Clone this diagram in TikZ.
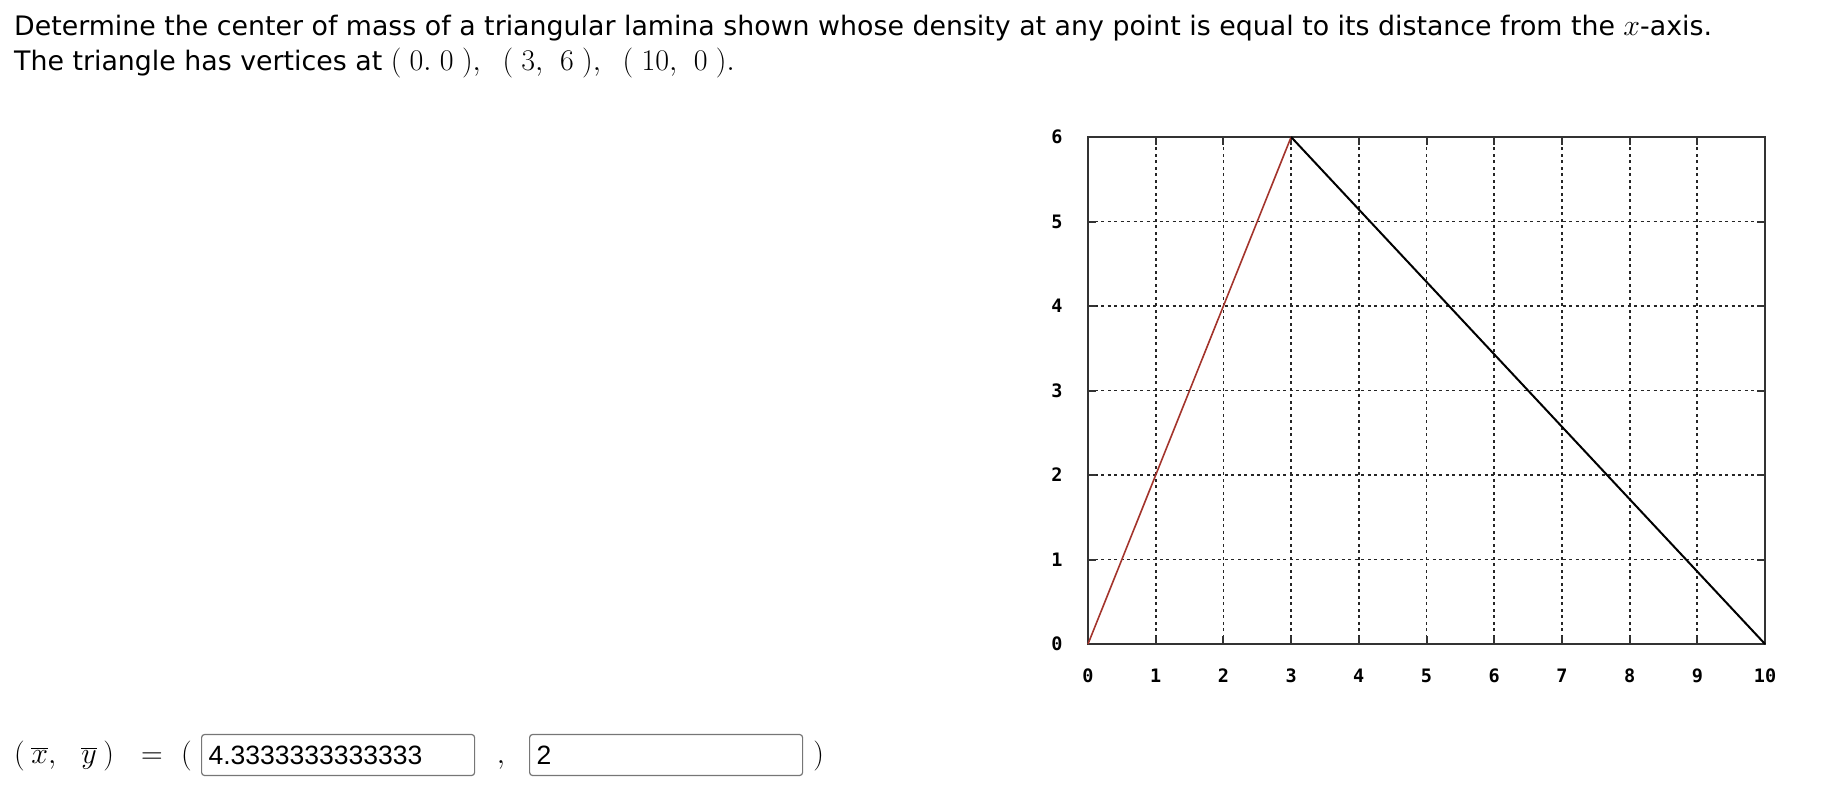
\documentclass[tikz,border=0pt]{standalone}
\usepackage{fix-cm}
\usepackage{fontspec}
\setmainfont{DejaVu Sans}
\newfontfamily\boxfont{Liberation Sans}
\newfontfamily\tickfont{DejaVu Sans Mono}
\definecolor{edgered}{HTML}{A3342C}
\definecolor{boxgray}{HTML}{767676}

\begin{document}
\begin{tikzpicture}[x=1pt,y=-1pt]
        \tikzset{prose/.style={anchor=base west,inner sep=0pt,font=\fontsize{26.8}{31}\selectfont},
            bigmath/.style={inner sep=0pt,font=\fontsize{30}{36}\selectfont},
            answer/.style={draw=boxgray,line width=1.2pt,rounded corners=3pt,anchor=west,
                text width=259pt,inner xsep=7pt,minimum height=41pt,
                font=\boxfont\fontsize{26.5}{30}\selectfont},
            ticklabel/.style={inner sep=0pt,font=\tickfont\bfseries\fontsize{18.5}{22}\selectfont},
            gridline/.style={line width=1.8pt,dash pattern=on 3pt off 3.5pt,draw=black!85},
            frame/.style={line width=2pt,draw=black!80},
            redside/.style={line width=1.6pt,draw=edgered},
            blackside/.style={line width=2pt,draw=black}}
        \useasboundingbox (0,0) rectangle (1836,788);
        \node[prose] (line1) at (14,35)
            {Determine the center of mass of a triangular lamina shown whose density at any point is equal to its distance from the {\fontsize{30}{34}\selectfont$x$}-axis.};
        \node[prose] (line2) at (14,70)
            {The triangle has vertices at {\fontsize{30}{34}\selectfont$(\mkern5mu 0.\mkern5mu 0\mkern5mu),\mkern10mu(\mkern5mu 3,\mkern7mu 6\mkern5mu),\mkern10mu(\mkern5mu 10,\mkern7mu 0\mkern5mu).$}};
        \begin{scope}[shift={(1088,644)},x=67.7pt,y=84.5pt]
            \foreach \i in {1,...,9}
                \draw[gridline] (\i,0) -- (\i,6);
            \foreach \j in {1,...,5}
                \draw[gridline] (0,\j) -- (10,\j);
            \foreach \i in {1,...,9} {
                \draw[frame] (\i,0) -- ++(0,0.1);
                \draw[frame] (\i,6) -- ++(0,-0.1);
            }
            \foreach \j in {1,...,5} {
                \draw[frame] (0,\j) -- ++(0.12,0);
                \draw[frame] (10,\j) -- ++(-0.12,0);
            }
            \draw[frame] (0,0) rectangle (10,6);
            \foreach \i in {0,...,10}
                \node[ticklabel] (xl\i) at (\i,-0.38) {\i};
            \foreach \j in {0,...,6}
                \node[ticklabel] (yl\j) at (-0.46,\j) {\j};
            \coordinate (A) at (0,0);
            \coordinate (B) at (3,6);
            \coordinate (C) at (10,0);
            \draw[redside] (A) -- (B);
            \draw[blackside] (B) -- (C);
        \end{scope}
        \node[bigmath,anchor=base west] (lhs) at (14,763) {$\left(\mkern4mu\overline{x},\mkern12mu\overline{y}\mkern4mu\right)$};
        \node[bigmath,anchor=base] (eq) at (152,763) {$=$};
        \node[bigmath,anchor=base] (open) at (187,763) {$\left(\vphantom{\overline{y}}\right.$};
        \node[answer] (xbar) at (201,755) {4.3333333333333};
        \node[bigmath,anchor=base] (comma) at (501,763) {$,$};
        \node[answer] (ybar) at (529,755) {2};
        \node[bigmath,anchor=base] (close) at (818,763) {$\left.\vphantom{\overline{y}}\right)$};
\end{tikzpicture}
\end{document}
